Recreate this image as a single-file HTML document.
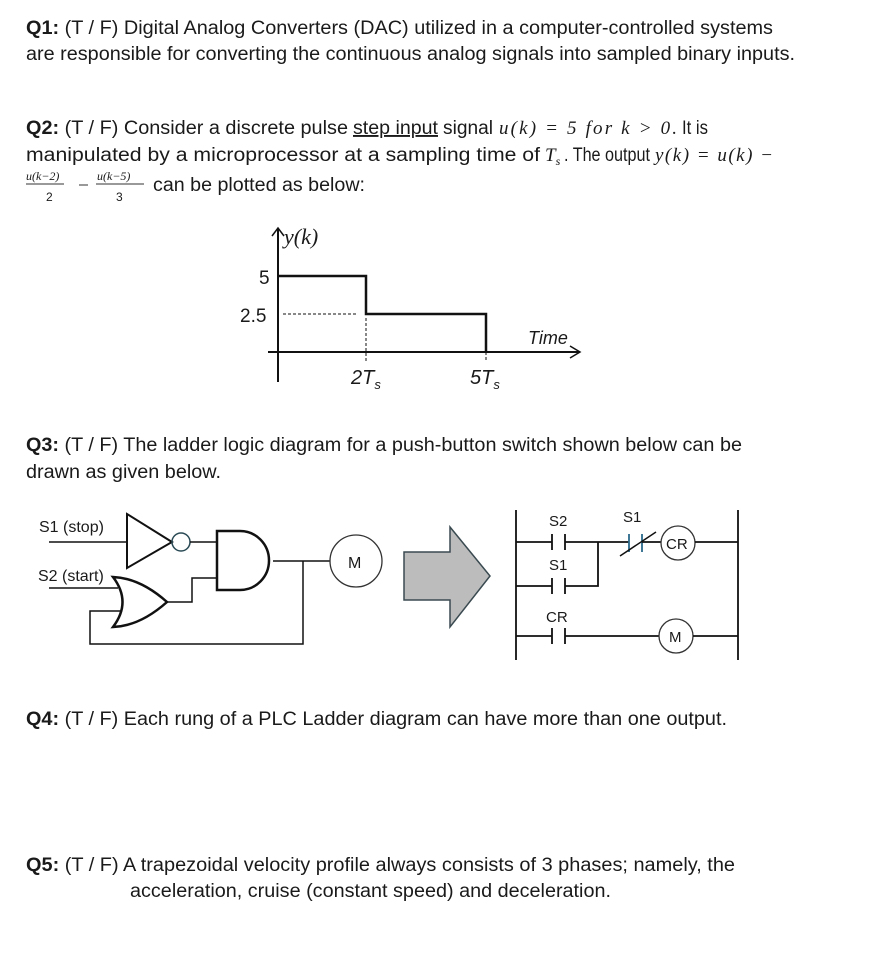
<!DOCTYPE html>
<html><head><meta charset="utf-8"><style>
html,body{margin:0;padding:0;background:#fff;}
svg{display:block}
text{font-family:"Liberation Sans",sans-serif;fill:#1a1a1a}
.m{font-family:"Liberation Serif",serif;font-style:italic}
</style></head><body>
<svg width="891" height="969" viewBox="0 0 891 969" xmlns="http://www.w3.org/2000/svg">
<g font-size="19">
<text x="26" y="34" textLength="747" lengthAdjust="spacingAndGlyphs"><tspan font-weight="bold">Q1:</tspan> (T / F) Digital Analog Converters (DAC) utilized in a computer-controlled systems</text>
<text x="26" y="60" textLength="769" lengthAdjust="spacingAndGlyphs">are responsible for converting the continuous analog signals into sampled binary inputs.</text>

<text x="26" y="134" textLength="322" lengthAdjust="spacingAndGlyphs"><tspan font-weight="bold">Q2:</tspan> (T / F) Consider a discrete pulse</text>
<text x="353" y="134" textLength="85" lengthAdjust="spacingAndGlyphs" text-decoration="underline">step input</text>
<text x="443" y="134" textLength="50" lengthAdjust="spacingAndGlyphs">signal</text>
<text x="499" y="134" class="m" font-size="19" textLength="178" lengthAdjust="spacing">u(k) = 5 for k &gt; 0.</text>
<text x="682" y="134" textLength="26" lengthAdjust="spacingAndGlyphs">It is</text>
<text x="26" y="161" textLength="514" lengthAdjust="spacingAndGlyphs">manipulated by a microprocessor at a sampling time of</text>
<text x="545" y="161" class="m">T<tspan font-size="12" dy="4">s</tspan></text>
<text x="564" y="161" textLength="86" lengthAdjust="spacingAndGlyphs">. The output</text>
<text x="655" y="161" class="m" font-size="19" textLength="118" lengthAdjust="spacing">y(k) = u(k) −</text>
<text x="153" y="191" textLength="212" lengthAdjust="spacingAndGlyphs">can be plotted as below:</text>
</g>
<g font-size="12">
<text x="26" y="180" class="m">u(k−2)</text><text x="46" y="201">2</text>
<text x="97" y="180" class="m">u(k−5)</text><text x="116" y="201">3</text>
</g>
<line x1="26" y1="184" x2="64" y2="184" stroke="#333" stroke-width="1"/>
<line x1="96" y1="184" x2="144" y2="184" stroke="#333" stroke-width="1"/>
<line x1="79" y1="185" x2="88" y2="185" stroke="#333" stroke-width="1"/>

<!-- graph -->
<g stroke="#111" fill="none">
<line x1="278" y1="228" x2="278" y2="382" stroke-width="2"/>
<polyline points="272,236 278,228 284,236" stroke-width="1.5"/>
<line x1="268" y1="352" x2="580" y2="352" stroke-width="2"/>
<polyline points="570,346 580,352 570,358" stroke-width="1.5"/>
<polyline points="278,276 366,276 366,314 486,314 486,352" stroke-width="2.5"/>
<line x1="283" y1="314" x2="358" y2="314" stroke-width="1" stroke-dasharray="3,2"/>
<line x1="366" y1="318" x2="366" y2="362" stroke-width="1" stroke-dasharray="3,2"/>
<line x1="486" y1="352" x2="486" y2="362" stroke-width="1" stroke-dasharray="3,2"/>
</g>
<text x="284" y="244" class="m" font-size="22">y(k)</text>
<text x="259" y="284" font-size="19">5</text>
<text x="240" y="322" font-size="19">2.5</text>
<text x="528" y="344" font-size="18" font-style="italic">Time</text>
<text x="351" y="384" font-size="20" font-style="italic">2T<tspan font-size="13" dy="5">s</tspan></text>
<text x="470" y="384" font-size="20" font-style="italic">5T<tspan font-size="13" dy="5">s</tspan></text>

<g font-size="19">
<text x="26" y="451" textLength="716" lengthAdjust="spacingAndGlyphs"><tspan font-weight="bold">Q3:</tspan> (T / F) The ladder logic diagram for a push-button switch shown below can be</text>
<text x="26" y="478" textLength="195" lengthAdjust="spacingAndGlyphs">drawn as given below.</text>
<text x="26" y="725" textLength="701" lengthAdjust="spacingAndGlyphs"><tspan font-weight="bold">Q4:</tspan> (T / F) Each rung of a PLC Ladder diagram can have more than one output.</text>
<text x="26" y="871" textLength="709" lengthAdjust="spacingAndGlyphs"><tspan font-weight="bold">Q5:</tspan> (T / F) A trapezoidal velocity profile always consists of 3 phases; namely, the</text>
<text x="130" y="897" textLength="481" lengthAdjust="spacingAndGlyphs">acceleration, cruise (constant speed) and deceleration.</text>
</g>

<!-- logic diagram -->
<text x="39" y="532" font-size="16">S1 (stop)</text>
<text x="38" y="581" font-size="16">S2 (start)</text>
<g stroke="#111" fill="none">
<line x1="49" y1="542" x2="127" y2="542" stroke-width="1.5"/>
<polygon points="127,514 172,542 127,568" stroke-width="2" fill="#fff"/>
<circle cx="181" cy="542" r="9" stroke="#2a4a55" stroke-width="1.5"/>
<line x1="190" y1="542" x2="217" y2="542" stroke-width="1.5"/>
<path d="M217,531 L240,531 A29,29.5 0 0 1 240,590 L217,590 Z" stroke-width="2.5"/>
<line x1="273" y1="561" x2="330" y2="561" stroke-width="1.5"/>
<circle cx="356" cy="561" r="26" stroke="#333" stroke-width="1.3"/>
<line x1="49" y1="588" x2="118" y2="588" stroke-width="1.5"/>
<path d="M113,577 Q140,578 167,602 Q140,626 113,627 Q132,602 113,577 Z" stroke-width="2.5" fill="#fff"/>
<polyline points="167,602 192,602 192,578 217,578" stroke-width="1.5"/>
<polyline points="303,561 303,644 90,644 90,611 122,611" stroke-width="1.5"/>
</g>
<text x="348" y="568" font-size="16">M</text>

<!-- arrow -->
<polygon points="404,552 450,552 450,527 490,576 450,627 450,600 404,600" fill="#bcbcbc" stroke="#3a4a50" stroke-width="1.5"/>

<!-- ladder -->
<g stroke="#111" fill="none" stroke-width="1.8">
<line x1="516" y1="510" x2="516" y2="660"/>
<line x1="738" y1="510" x2="738" y2="660"/>
<line x1="516" y1="542" x2="552" y2="542"/>
<line x1="552" y1="534" x2="552" y2="550"/><line x1="565" y1="534" x2="565" y2="550"/>
<line x1="565" y1="542" x2="629" y2="542"/>
<line x1="629" y1="534" x2="629" y2="552" stroke="#2a6a8a"/><line x1="642" y1="534" x2="642" y2="552" stroke="#2a6a8a"/>
<line x1="620" y1="556" x2="656" y2="532" stroke-width="1.5"/>
<line x1="642" y1="542" x2="661" y2="542"/>
<circle cx="678" cy="543" r="17" stroke="#333" stroke-width="1.3"/>
<line x1="695" y1="542" x2="738" y2="542"/>
<line x1="516" y1="586" x2="552" y2="586"/>
<line x1="552" y1="578" x2="552" y2="594"/><line x1="565" y1="578" x2="565" y2="594"/>
<polyline points="565,586 598,586 598,542"/>
<line x1="516" y1="636" x2="552" y2="636"/>
<line x1="552" y1="628" x2="552" y2="644"/><line x1="565" y1="628" x2="565" y2="644"/>
<line x1="565" y1="636" x2="659" y2="636"/>
<circle cx="676" cy="636" r="17" stroke="#333" stroke-width="1.3"/>
<line x1="693" y1="636" x2="738" y2="636"/>
</g>
<g font-size="15">
<text x="549" y="526">S2</text>
<text x="623" y="522">S1</text>
<text x="549" y="570">S1</text>
<text x="546" y="622">CR</text>
<text x="666" y="549">CR</text>
<text x="669" y="642">M</text>
</g>
</svg>
</body></html>
